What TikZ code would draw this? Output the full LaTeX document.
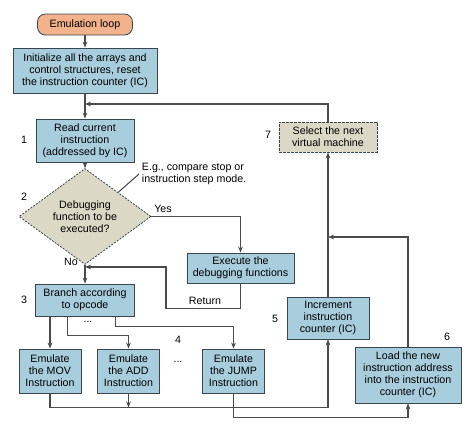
\documentclass[tikz,border=0pt]{standalone}
\usepackage{fontspec}
\setmainfont{Liberation Sans}
\usetikzlibrary{shapes.geometric,arrows.meta}
\definecolor{boxblue}{RGB}{168,206,222}
\definecolor{startorange}{RGB}{242,178,140}
\definecolor{tan}{RGB}{220,216,198}
\definecolor{linegray}{RGB}{75,75,75}
\definecolor{edgegray}{RGB}{55,70,80}
\begin{document}
\begin{tikzpicture}
[
    x=0.75pt, y=-0.75pt,
    font=\fontsize{8}{9}\selectfont,
    box/.style={draw=edgegray, line width=0.6pt, fill=boxblue, align=center, inner sep=0pt},
    startbox/.style={box, fill=startorange, rounded corners=6pt},
    choice/.style={diamond, draw=edgegray, line width=0.6pt, dash pattern=on 1.5pt off 1pt, fill=tan, align=center, inner sep=0pt},
    vmbox/.style={box, dash pattern=on 2pt off 1pt, fill=tan},
    flow/.style={draw=linegray, line width=0.8pt, -{Stealth[length=4.5pt,width=3.5pt]}},
    plain/.style={draw=linegray, line width=0.8pt},
]
\useasboundingbox (0,0) rectangle (474,430);

\node[startbox, minimum width=71.25pt, minimum height=15.75pt] (start) at (85,24.5) {Emulation loop};
\node[box, minimum width=108pt, minimum height=33.75pt] (init) at (85,70.5) {Initialize all the arrays and\\control structures, reset\\the instruction counter (IC)};
\node[box, minimum width=73.5pt, minimum height=32.25pt] (read) at (85,140.5) {Read current\\instruction\\(addressed by IC)};
\node[choice, minimum width=99pt, minimum height=54.75pt] (dec) at (85,216.5) {Debugging\\function to be\\executed?};
\node[box, minimum width=80.25pt, minimum height=22.5pt] (exec) at (240.5,268) {Execute the\\debugging functions};
\node[box, minimum width=74.25pt, minimum height=24pt] (branch) at (85,300) {Branch according\\to opcode};
\node[box, minimum width=46.5pt, minimum height=33pt] (mov) at (50,371) {Emulate\\the MOV\\Instruction};
\node[box, minimum width=46.5pt, minimum height=33pt] (add) at (128.5,371) {Emulate\\the ADD\\Instruction};
\node[box, minimum width=46.5pt, minimum height=33pt] (jump) at (233.5,371) {Emulate\\the JUMP\\Instruction};
\node[box, minimum width=61.5pt, minimum height=31.5pt] (inc) at (328,318) {Increment\\instruction\\counter (IC)};
\node[box, minimum width=79.5pt, minimum height=42pt] (load) at (408,375) {Load the new\\instruction address\\into the instruction\\counter (IC)};
\node[vmbox, minimum width=73.5pt, minimum height=22.5pt] (sel) at (328,137) {Select the next\\virtual machine};

\node[align=left, anchor=west, inner sep=2pt] (note) at (139,174) {E.g., compare stop or\\instruction step mode.};

\node (num1) at (24,140) {1};
\node (num2) at (24,197) {2};
\node (num3) at (24,300) {3};
\node (num4) at (178,340) {4};
\node (num5) at (275,319) {5};
\node (num6) at (447,337) {6};
\node (num7) at (268,135) {7};

\node (yes) at (163,209) {Yes};
\node (no) at (71,262) {No};
\node (ret) at (205,301) {Return};
\node (dots1) at (88,322) {...};
\node (dots2) at (178,362) {...};

\coordinate (loopin) at (85,104);
\coordinate (retin) at (85,267);
\coordinate (vmin) at (328,237);

\draw[flow] (start) -- (init);
\draw[flow] (init) -- (read);
\draw[flow] (read) -- (dec);
\draw[flow] (dec) -- (branch);
\draw[plain] (dec.north east) -- (note.west);
\draw[flow] (dec.east) -| (exec.north);
\draw[flow] (exec.south) -- ++(0,25) -| (166,267) -- (retin);
\draw[flow] (branch.south -| mov.north) -- (mov.north);
\draw[flow] (branch.south west) ++(32,0) -- ++(0,19) -| (add.north);
\draw[flow] (branch.south west) ++(80,0) -- ++(0,10) -| (jump.north);
\draw[flow] (mov.south) -- ++(0,14) -| (inc.south);
\draw[flow] (add.south) -- ++(0,14);
\draw[flow] (jump.south) -- ++(0,24) -| (load.south);
\draw[flow] (inc.north) -- (sel.south);
\draw[flow] (load.north) |- (vmin);
\draw[flow] (sel.north) |- (loopin);
\end{tikzpicture}
\end{document}
